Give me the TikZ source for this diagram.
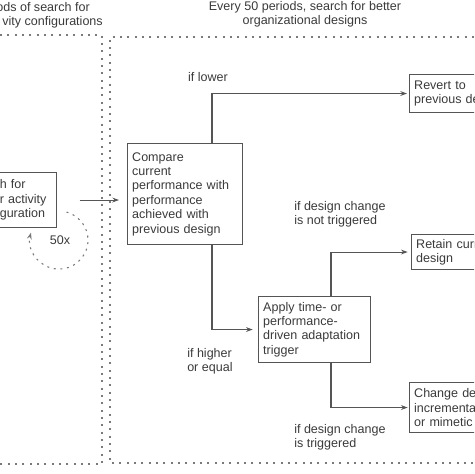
\documentclass[tikz,border=0pt]{standalone}
\usepackage{fontspec}
\setmainfont{Liberation Sans}
\usetikzlibrary{arrows.meta}
\definecolor{txt}{HTML}{3A3A3A}
\definecolor{ln}{HTML}{555555}
\definecolor{dsh}{HTML}{7A7A7A}
\begin{document}
\begin{tikzpicture}[x=0.75pt,y=-0.75pt,
  font=\fontsize{9.4}{10.8}\selectfont, text=txt,
  box/.style={draw=ln, line width=0.8pt, align=left, inner xsep=3.5pt, inner ysep=0pt},
  conn/.style={draw=ln, line width=0.8pt, -{Stealth[length=5pt,width=3.6pt]}},
  sep/.style={draw=dsh, line width=0.8pt, dash pattern=on 1.5pt off 4pt},
  loopst/.style={draw=dsh, line width=0.8pt, dash pattern=on 1.5pt off 3.5pt, -{Stealth[length=5pt,width=3.6pt]}},
  lbl/.style={align=left, inner sep=0pt, anchor=west}]
\useasboundingbox (0,0) rectangle (474,474);
\clip (0,0) rectangle (474,474);

% frames
\draw[sep] (0,35) -- (102,35) -- (102,464) -- (0,464);
\draw[sep] (474,37) -- (110,37) -- (110,463) -- (474,463);

% headers
\node[inner sep=0pt, anchor=east] (hl1) at (90,7) {ods of search for};
\node[inner sep=0pt, anchor=east] (hl2) at (103,22) {vity configurations};
\node[inner sep=0pt, align=center] (hr) at (305,14.5) {Every 50 periods, search for better\\organizational designs};

% boxes
\node[box, text width=39pt, minimum height=41.25pt, anchor=north east] (lbox) at (57,172) {h for\\r activity\\guration};
\node[box, text width=79.5pt, minimum height=75.75pt, anchor=north west] (cmp) at (127,143) {Compare\\current\\performance with\\performance\\achieved with\\previous design};
\node[box, text width=77.25pt, minimum height=49.5pt, anchor=north west] (app) at (258,296) {Apply time- or\\performance-\\driven adaptation\\trigger};
\node[box, text width=100pt, minimum height=28.5pt, anchor=north west] (rev) at (409,74) {Revert to\\previous de};
\node[box, text width=100pt, minimum height=26.25pt, anchor=north west] (ret) at (411,234) {Retain curr\\design};
\node[box, text width=100pt, minimum height=37.5pt, anchor=north west] (chg) at (409,382) {Change de\\incrementa\\or mimetic};

% labels
\node[lbl, anchor=center] (lo) at (208,77) {if lower};
\node[lbl] (hi) at (187,361.5) {if higher\\or equal};
\node[lbl] (nt) at (294,214) {if design change\\is not triggered};
\node[lbl] (tr) at (294,437) {if design change\\is triggered};
\node[inner sep=0pt] (fifty) at (60,240) {50x};

% connectors
\coordinate (c1) at (212,0);
\coordinate (c2) at (331,0);
\draw[conn, shorten <=17pt, shorten >=6pt] (lbox.east) -- (lbox.east -| cmp.west);
\draw[conn, shorten >=1.5pt] (cmp.north -| c1) |- (rev.west);
\draw[conn, shorten >=4pt] (cmp.south -| c1) |- (app.west);
\draw[conn, shorten >=2.5pt] (app.north -| c2) |- (ret.west);
\draw[conn, shorten >=1pt] (app.south -| c2) |- (chg.west);

% loop
\draw[loopst] (lbox.south east) ++(9.5,-16) arc[start angle=-75, end angle=195, radius=29];
\end{tikzpicture}
\end{document}
